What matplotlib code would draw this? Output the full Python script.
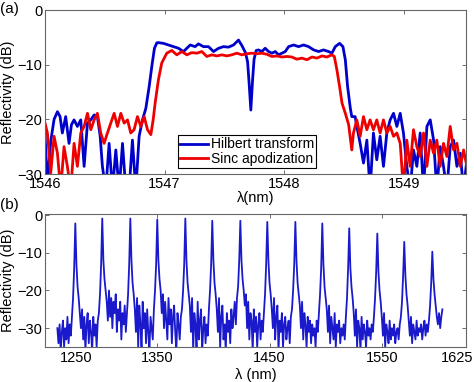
import numpy as np
import matplotlib
matplotlib.use("Agg")
from matplotlib import pyplot as plt

plt.rcParams['font.family'] = ['Liberation Sans', 'DejaVu Sans']
plt.rcParams['font.size'] = 10.5

# ---- (a) Hilbert transform vs sinc apodization, narrow span ----
wl_hilbert = [1546.00, 1546.02, 1546.048, 1546.076, 1546.104, 1546.126, 1546.145, 1546.173,
              1546.201, 1546.221, 1546.243, 1546.271, 1546.299, 1546.327, 1546.355, 1546.383,
              1546.411, 1546.438, 1546.461, 1546.480, 1546.508, 1546.536, 1546.564, 1546.592,
              1546.620, 1546.648, 1546.676, 1546.703, 1546.731, 1546.759, 1546.787, 1546.815,
              1546.843, 1546.871, 1546.895, 1546.915, 1546.935, 1546.948, 1546.990, 1547.032,
              1547.074, 1547.116, 1547.158, 1547.214, 1547.255, 1547.283, 1547.325, 1547.367,
              1547.409, 1547.451, 1547.493, 1547.534, 1547.576, 1547.618, 1547.646, 1547.676,
              1547.694, 1547.707, 1547.721, 1547.735, 1547.748, 1547.766, 1547.785, 1547.813,
              1547.841, 1547.869,
              1547.897, 1547.925, 1547.953, 1547.981, 1548.009, 1548.037, 1548.079, 1548.120,
              1548.162, 1548.204, 1548.246, 1548.288, 1548.329, 1548.371, 1548.399, 1548.427,
              1548.463, 1548.491, 1548.511, 1548.530, 1548.553, 1548.565, 1548.593, 1548.607,
              1548.635, 1548.663, 1548.691, 1548.718, 1548.746, 1548.774, 1548.802, 1548.830,
              1548.858, 1548.886, 1548.914, 1548.942, 1548.970, 1548.997, 1549.025, 1549.053,
              1549.081, 1549.109, 1549.137, 1549.165, 1549.193, 1549.221, 1549.249, 1549.276,
              1549.304, 1549.332, 1549.360, 1549.388, 1549.416, 1549.444, 1549.472, 1549.500,
              1549.527]
db_hilbert = [-22.5, -32, -24, -20, -18.6, -19.5, -22.5, -19.5,
              -24.4, -21, -20.1, -21.3, -20.1, -28.6, -20.7, -20.1,
              -19.2, -19.5, -23, -28.6, -33, -24.4, -33, -25.6,
              -33, -24.4, -33, -33, -23.8, -33, -23.1, -20.1,
              -18, -14, -10, -7, -6.0, -5.97, -6.1, -6.4,
              -6.7, -7.0, -7.6, -6.4, -6.7, -6.2, -6.7, -6.7,
              -7.6, -7.0, -6.7, -6.8, -6.4, -5.5, -6.5, -7.8,
              -9.5, -13.5, -18.3, -13.0, -9.0, -7.4, -7.3, -7.6,
              -7.0, -7.6,
              -7.9, -7.6, -8.2, -7.9, -7.6, -6.7, -6.4, -6.7,
              -6.4, -6.7, -7.3, -7.6, -7.3, -7.6, -7.9, -6.7,
              -6.1, -6.7, -9.1, -14.0, -18.0, -19.5, -19.5, -21.3,
              -24.4, -28.0, -23.8, -33, -22.5, -27.4, -23.1, -28.6,
              -22.5, -20.1, -18.9, -21.3, -18.9, -22.5, -28.6, -33,
              -25.6, -28.6, -22.5, -33, -21.3, -20.1, -23.8, -33,
              -25.0, -28.6, -33, -25.0, -23.8, -28.6, -26.2, -33,
              -27.4]

wl_sinc = [1546.00, 1546.02, 1546.048, 1546.076, 1546.104, 1546.131, 1546.159, 1546.187,
           1546.215, 1546.243, 1546.271, 1546.299, 1546.327, 1546.355, 1546.383, 1546.411,
           1546.438, 1546.466, 1546.494, 1546.522, 1546.550, 1546.578, 1546.606, 1546.634,
           1546.662, 1546.690, 1546.717, 1546.745, 1546.773, 1546.801, 1546.829, 1546.857,
           1546.885, 1546.905, 1546.921, 1546.948, 1546.976, 1547.018, 1547.060, 1547.102,
           1547.144, 1547.186, 1547.227, 1547.269, 1547.311, 1547.353, 1547.395, 1547.437,
           1547.479, 1547.520, 1547.562, 1547.604, 1547.646, 1547.688, 1547.730, 1547.772,
           1547.813, 1547.855, 1547.897, 1547.939, 1547.981, 1548.023, 1548.064, 1548.106,
           1548.148, 1548.190, 1548.232, 1548.274, 1548.316, 1548.357, 1548.399, 1548.419,
           1548.441, 1548.463, 1548.483, 1548.511, 1548.539, 1548.565, 1548.579, 1548.607,
           1548.635, 1548.663, 1548.691, 1548.718, 1548.746, 1548.774, 1548.802, 1548.830,
           1548.858, 1548.886, 1548.914, 1548.942, 1548.970, 1548.997, 1549.025, 1549.053,
           1549.081, 1549.109, 1549.137, 1549.165, 1549.193, 1549.221, 1549.249, 1549.276,
           1549.304, 1549.332, 1549.360, 1549.388, 1549.416, 1549.444, 1549.472, 1549.500,
           1549.527]
db_sinc = [-20.7, -22.5, -29.8, -23.1, -26.2, -33, -25.0, -28.6,
           -33, -24.4, -28.6, -22.5, -21.3, -18.9, -21.9, -20.1,
           -18.9, -22.5, -24.4, -22.5, -20.7, -18.9, -21.3, -18.9,
           -20.7, -20.1, -22.5, -21.9, -19.5, -21.3, -19.5, -21.9,
           -22.8, -20, -17.0, -12.8, -9.7, -7.9, -7.4, -8.2,
           -7.6, -8.2, -7.8, -7.9, -7.6, -8.5, -8.2, -8.4,
           -8.2, -8.4, -8.2, -7.9, -8.2, -8.0, -7.9, -8.0,
           -7.9, -8.1, -8.5, -8.4, -8.6, -8.5, -8.6, -9.0,
           -8.8, -9.1, -8.6, -8.8, -8.4, -8.6, -8.2, -8.5,
           -11, -14, -17, -18.9, -21, -25.6, -22.5, -20.1,
           -23.1, -19.5, -21.9, -20.1, -21.9, -20.1, -22.5, -20.1,
           -22.5, -21.3, -23.1, -22.5, -24.4, -33, -23.8, -28.6,
           -21.9, -25.0, -26.8, -22.5, -28.6, -23.8, -26.2, -23.8,
           -28.6, -24.4, -26.8, -21.3, -25.6, -24.4, -28.6, -25.6,
           -28.6]

ticks_a = [1546, 1547, 1548, 1549]

# ---- (b) multi-channel comb, 1 nm steps from 1261 to 1604 nm ----
wl_comb = np.arange(1261, 1605)
db_comb = [
    -30, -34, -29, -36, -31, -28, -35, -30, -33, -27, -34, -29, -32,
    -27, -22, -14, -2.2, -13, -19, -22,
    -26, -30, -25, -33, -27, -36, -29, -26, -34, -28, -31, -36, -27, -32, -29, -35, -28,
    -26, -21, -13, -0.9, -12, -17, -20,
    -23, -28, -20, -27, -22, -30, -23, -26, -21, -31, -25, -28, -23, -33, -26, -29, -24, -31,
    -26, -21, -13, -0.9, -12, -18, -21,
    -25, -31, -22, -35, -24, -29, -36, -23, -30, -26, -34, -25, -31, -36, -27, -30, -33,
    -25, -20, -13, -1.2, -12, -17, -20,
    -26, -21, -30, -23, -28, -33, -22, -29, -25, -34, -27, -24, -31, -36, -26, -29, -33, -27,
    -25, -20, -13, -0.9, -12, -18, -21,
    -24, -31, -22, -36, -26, -29, -36, -23, -33, -28, -25, -36, -30, -27, -34, -29, -32,
    -25, -20, -13, -1.5, -12, -18, -21,
    -25, -31, -22, -35, -27, -24, -33, -29, -36, -26, -31, -28, -34, -25, -30, -27, -23, -29,
    -22, -19, -12, -1.5, -12, -17, -20,
    -24, -21, -30, -23, -33, -26, -28, -36, -25, -31, -27, -35, -29, -26, -33, -28, -31,
    -26, -21, -13, -1.8, -12, -18, -21,
    -25, -30, -22, -33, -27, -24, -36, -28, -31, -26, -35, -29, -27, -33, -30, -28, -34, -27,
    -25, -20, -13, -1.8, -12, -18, -21,
    -24, -30, -23, -33, -26, -29, -35, -27, -31, -28, -34, -29, -32, -30, -35, -28, -31,
    -26, -21, -14, -2.2, -13, -19, -22,
    -25, -31, -24, -34, -27, -30, -33, -26, -35, -29, -31, -28, -34, -30, -32, -29, -33,
    -27, -22, -14, -3.5, -14, -19, -22,
    -26, -32, -25, -35, -28, -30, -36, -27, -33, -29, -31, -35, -28, -32, -30, -33, -29, -31,
    -27, -22, -15, -4.9, -15, -20, -23,
    -27, -32, -26, -35, -29, -31, -34, -28, -33, -30, -32, -29, -34, -31, -30, -33, -29,
    -27, -23, -16, -7.1, -16, -21, -24,
    -28, -32, -27, -34, -29, -31, -33, -28, -32, -30, -31, -29, -33, -30, -28, -32, -29, -31,
    -28, -24, -18, -9.7, -17, -21, -24,
    -27, -29, -26, -30, -27, -25,
]
ticks_b = [1250, 1350, 1450, 1550, 1625]
yticks = [-30, -20, -10, 0]

fig = plt.figure(figsize=(4.74, 3.82), dpi=100)
ax1 = fig.add_axes([45/474, 1 - 174/382, 421/474, 164/382])
ax2 = fig.add_axes([45/474, 1 - 347/382, 421/474, 133/382])

ax1.plot(wl_hilbert, db_hilbert, color='#0000cc', lw=2, label='Hilbert transform')
ax1.plot(wl_sinc, db_sinc, color='#ee0000', lw=2, label='Sinc apodization')
ax1.set_xlim(1546, 1549.52)
ax1.set_ylim(-30, 0)
ax1.set_xticks(ticks_a)
ax1.set_yticks(yticks)
ax1.set_xlabel('λ(nm)', labelpad=0)
ax1.set_ylabel('Reflectivity (dB)', labelpad=2)
leg = ax1.legend(loc='lower left', bbox_to_anchor=(0.316, 0.035), borderaxespad=0,
                 handlelength=2.0, handletextpad=0.2, labelspacing=0.05, borderpad=0.15,
                 fancybox=False, framealpha=1, edgecolor='black', fontsize=10)
leg.get_frame().set_linewidth(0.8)

ax2.plot(wl_comb, db_comb, color='#1a1acc', lw=1.3)
ax2.set_xlim(1250, 1625)
ax2.set_ylim(-35, 0.3)
ax2.set_xticks(ticks_b)
ax2.set_xticklabels([''] * len(ticks_b))
# the first and last labels sit off their ticks in the original
label_pos = [1278, 1350, 1450, 1550, 1617]
for pos, t in zip(label_pos, ticks_b):
    ax2.text(pos, -36.0, str(t), ha='center', va='top', fontsize=10.5)
ax2.set_yticks(yticks)
ax2.set_xlabel('λ (nm)', labelpad=13)
ax2.set_ylabel('Reflectivity (dB)', labelpad=2)

for ax in (ax1, ax2):
    ax.tick_params(direction='in', top=True, right=True, length=3, width=0.6,
                   color='#555555', pad=2)
    for s in ax.spines.values():
        s.set_color('#666666')
        s.set_linewidth(0.8)

fig.text(0.0, 1 - 9/382, '(a)', ha='left', va='center', fontsize=11)
fig.text(0.0, 1 - 205/382, '(b)', ha='left', va='center', fontsize=11)

fig.savefig('out.png', dpi=100)
